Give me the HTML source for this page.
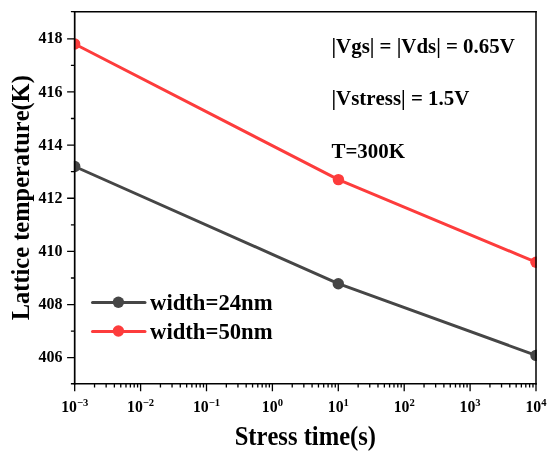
<!DOCTYPE html><html><head><meta charset="utf-8"><style>html,body{margin:0;padding:0;background:#fff;}body{width:550px;height:455px;overflow:hidden;}svg{display:block;}text{font-family:"Liberation Serif","Times New Roman",serif;font-weight:bold;fill:#000;font-kerning:none;}</style></head><body>
<svg width="550" height="455" viewBox="0 0 550 455">
<rect width="550" height="455" fill="#fff"/>
<defs><clipPath id="c"><rect x="73.85" y="10.90" width="462.90" height="373.65"/></clipPath></defs>
<g clip-path="url(#c)">
<polyline points="74.70,166.50 338.30,283.70 536.00,355.40" fill="none" stroke="#464646" stroke-width="3.0" stroke-linejoin="round"/>
<circle cx="74.70" cy="166.50" r="5.7" fill="#464646"/>
<circle cx="338.30" cy="283.70" r="5.7" fill="#464646"/>
<circle cx="536.00" cy="355.40" r="5.7" fill="#464646"/>
<polyline points="74.70,44.00 338.40,179.60 536.00,262.20" fill="none" stroke="#fd3c3c" stroke-width="3.0" stroke-linejoin="round"/>
<circle cx="74.70" cy="44.00" r="5.7" fill="#fd3c3c"/>
<circle cx="338.40" cy="179.60" r="5.7" fill="#fd3c3c"/>
<circle cx="536.00" cy="262.20" r="5.7" fill="#fd3c3c"/>
</g>
<path d="M73.85,11.7H536.75" stroke="#000" stroke-width="1.6"/>
<path d="M73.85,383.75H536.75" stroke="#000" stroke-width="1.6"/>
<path d="M74.7,10.90V384.55" stroke="#000" stroke-width="1.7"/>
<path d="M536.0,10.90V384.55" stroke="#000" stroke-width="1.5"/>
<path d="M70.90,383.75H74.7M67.10,357.72H74.7M70.90,331.14H74.7M67.10,304.56H74.7M70.90,277.99H74.7M67.10,251.41H74.7M70.90,224.83H74.7M67.10,198.25H74.7M70.90,171.67H74.7M67.10,145.09H74.7M70.90,118.51H74.7M67.10,91.94H74.7M70.90,65.36H74.7M67.10,38.78H74.7M70.90,11.70H74.7M74.70,383.75V391.35M94.54,383.75V387.55M106.14,383.75V387.55M114.38,383.75V387.55M120.76,383.75V387.55M125.98,383.75V387.55M130.39,383.75V387.55M134.21,383.75V387.55M137.58,383.75V387.55M140.60,383.75V391.35M160.44,383.75V387.55M172.04,383.75V387.55M180.28,383.75V387.55M186.66,383.75V387.55M191.88,383.75V387.55M196.29,383.75V387.55M200.11,383.75V387.55M203.48,383.75V387.55M206.50,383.75V391.35M226.34,383.75V387.55M237.94,383.75V387.55M246.18,383.75V387.55M252.56,383.75V387.55M257.78,383.75V387.55M262.19,383.75V387.55M266.01,383.75V387.55M269.38,383.75V387.55M272.40,383.75V391.35M292.24,383.75V387.55M303.84,383.75V387.55M312.08,383.75V387.55M318.46,383.75V387.55M323.68,383.75V387.55M328.09,383.75V387.55M331.91,383.75V387.55M335.28,383.75V387.55M338.30,383.75V391.35M358.14,383.75V387.55M369.74,383.75V387.55M377.98,383.75V387.55M384.36,383.75V387.55M389.58,383.75V387.55M393.99,383.75V387.55M397.81,383.75V387.55M401.18,383.75V387.55M404.20,383.75V391.35M424.04,383.75V387.55M435.64,383.75V387.55M443.88,383.75V387.55M450.26,383.75V387.55M455.48,383.75V387.55M459.89,383.75V387.55M463.71,383.75V387.55M467.08,383.75V387.55M470.10,383.75V391.35M489.94,383.75V387.55M501.54,383.75V387.55M509.78,383.75V387.55M516.16,383.75V387.55M521.38,383.75V387.55M525.79,383.75V387.55M529.61,383.75V387.55M532.98,383.75V387.55M536.00,383.75V391.35" stroke="#000" stroke-width="1.3" fill="none"/>
<text x="62.5" y="362.32" font-size="16" text-anchor="end">406</text>
<text x="62.5" y="309.16" font-size="16" text-anchor="end">408</text>
<text x="62.5" y="256.01" font-size="16" text-anchor="end">410</text>
<text x="62.5" y="202.85" font-size="16" text-anchor="end">412</text>
<text x="62.5" y="149.69" font-size="16" text-anchor="end">414</text>
<text x="62.5" y="96.54" font-size="16" text-anchor="end">416</text>
<text x="62.5" y="43.38" font-size="16" text-anchor="end">418</text>
<text x="74.70" y="411.5" font-size="15.8" text-anchor="middle">10<tspan font-size="10.6" dy="-6.0">−3</tspan></text>
<text x="140.60" y="411.5" font-size="15.8" text-anchor="middle">10<tspan font-size="10.6" dy="-6.0">−2</tspan></text>
<text x="206.50" y="411.5" font-size="15.8" text-anchor="middle">10<tspan font-size="10.6" dy="-6.0">−1</tspan></text>
<text x="272.40" y="411.5" font-size="15.8" text-anchor="middle">10<tspan font-size="10.6" dy="-6.0">0</tspan></text>
<text x="338.30" y="411.5" font-size="15.8" text-anchor="middle">10<tspan font-size="10.6" dy="-6.0">1</tspan></text>
<text x="404.20" y="411.5" font-size="15.8" text-anchor="middle">10<tspan font-size="10.6" dy="-6.0">2</tspan></text>
<text x="470.10" y="411.5" font-size="15.8" text-anchor="middle">10<tspan font-size="10.6" dy="-6.0">3</tspan></text>
<text x="536.00" y="411.5" font-size="15.8" text-anchor="middle">10<tspan font-size="10.6" dy="-6.0">4</tspan></text>
<text transform="translate(305.35,444.6) scale(1,1.08)" font-size="24.6" text-anchor="middle">Stress time(s)</text>
<text transform="translate(29.0,197.72) rotate(-90) scale(1,1.065)" font-size="24.45" text-anchor="middle">Lattice temperature(K)</text>
<text x="331.5" y="53.2" font-size="20.9" xml:space="preserve">|Vgs| = |Vds| = 0.65V</text>
<text x="331.5" y="104.8" font-size="20.9" xml:space="preserve">|Vstress| = 1.5V</text>
<text x="331.5" y="157.8" font-size="20.9" xml:space="preserve">T=300K</text>
<line x1="92.5" y1="302.5" x2="145.0" y2="302.5" stroke="#464646" stroke-width="3.0" stroke-linecap="round"/>
<circle cx="118.4" cy="302.3" r="5.7" fill="#464646"/>
<text x="150.0" y="310.4" font-size="22.7">width=24nm</text>
<line x1="92.5" y1="331.5" x2="145.0" y2="331.5" stroke="#fd3c3c" stroke-width="3.0" stroke-linecap="round"/>
<circle cx="118.4" cy="331.0" r="5.7" fill="#fd3c3c"/>
<text x="150.0" y="339.0" font-size="22.7">width=50nm</text>
</svg></body></html>
